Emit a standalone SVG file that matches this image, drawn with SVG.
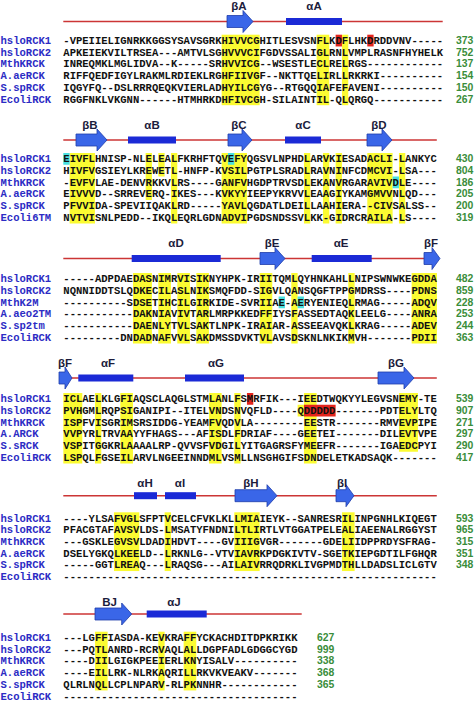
<svg xmlns="http://www.w3.org/2000/svg" width="474" height="701" viewBox="0 0 474 701">
<style>
.seq{font-family:"Liberation Mono","Courier New",monospace;font-weight:bold;font-size:10.55px;fill:#111;}
.nm{font-family:"Liberation Mono","Courier New",monospace;font-weight:bold;font-size:10.55px;fill:#2c2cc4;}
.num{font-family:"Liberation Sans",Arial,sans-serif;font-weight:bold;font-size:10.4px;fill:#3a8d3a;}
.lb{font-family:"Liberation Sans",Arial,sans-serif;font-weight:bold;font-size:11.5px;fill:#1c1c3c;text-anchor:middle;}
.ln{stroke:#cc3535;stroke-width:1.6;}
.ar{fill:#3a66e8;stroke:#1e3caa;stroke-width:0.8;}
.hx{fill:#1b2ad6;}
.y{fill:#fbfb32;}.r{fill:#e3241c;}.c{fill:#48e0e0;}
</style>
<rect width="474" height="701" fill="#fff"/>

<!-- highlights -->
<g id="highlights">
<g transform="translate(63.3,34.7) scale(6.333,11.75)">
<rect class="y" x="25" y="0" width="6" height="6"/><rect class="y" x="40" y="0" width="2" height="6"/><rect class="y" x="44" y="0" width="1" height="6"/>
<rect class="r" x="43" y="0" width="1" height="1"/><rect class="r" x="48" y="0" width="1" height="1"/>
</g>
<g transform="translate(63.3,153) scale(6.333,11.75)">
<rect class="y" x="1" y="0" width="4" height="6"/><rect class="y" x="13" y="0" width="1" height="4"/><rect class="y" x="15" y="0" width="1" height="2"/><rect class="y" x="17" y="0" width="1" height="6"/><rect class="y" x="25" y="0" width="4" height="6"/><rect class="y" x="38" y="0" width="1" height="6"/><rect class="y" x="41" y="0" width="1" height="6"/><rect class="y" x="43" y="0" width="1" height="6"/><rect class="y" x="48" y="0" width="4" height="6"/><rect class="y" x="53" y="0" width="1" height="6"/>
<rect class="c" x="0" y="0" width="1" height="1"/><rect class="c" x="26" y="0" width="1" height="1"/><rect class="c" x="52" y="2" width="1" height="1"/>
</g>
<g transform="translate(63.3,273) scale(6.333,11.75)">
<rect class="y" x="11" y="0" width="3" height="6"/><rect class="y" x="15" y="0" width="2" height="6"/><rect class="y" x="18" y="0" width="2" height="6"/><rect class="y" x="21" y="0" width="2" height="6"/><rect class="y" x="31" y="0" width="2" height="6"/><rect class="y" x="36" y="0" width="1" height="6"/><rect class="y" x="45" y="0" width="1" height="6"/><rect class="y" x="55" y="0" width="4" height="6"/>
<rect class="c" x="34" y="2" width="1" height="1"/><rect class="c" x="37" y="2" width="1" height="1"/>
</g>
<g transform="translate(63.3,393) scale(6.333,11.75)">
<rect class="y" x="0" y="0" width="3" height="6"/><rect class="y" x="5" y="0" width="1" height="6"/><rect class="y" x="9" y="0" width="2" height="6"/><rect class="y" x="23" y="0" width="2" height="6"/><rect class="y" x="27" y="0" width="1" height="6"/><rect class="y" x="38" y="0" width="2" height="6"/><rect class="y" x="37" y="1" width="1" height="1"/><rect class="y" x="53" y="0" width="3" height="5"/>
<rect class="r" x="29" y="0" width="1" height="1"/><rect class="r" x="38" y="1" width="5" height="1"/>
</g>
<g transform="translate(63.3,512.3) scale(6.333,11.75)">
<rect class="y" x="8" y="0" width="4" height="5"/><rect class="y" x="16" y="0" width="1" height="5"/><rect class="y" x="27" y="0" width="4" height="5"/><rect class="y" x="44" y="0" width="2" height="5"/>
</g>
<g transform="translate(63.3,631.7) scale(6.333,11.75)">
<rect class="y" x="5" y="0" width="2" height="5"/><rect class="y" x="15" y="0" width="1" height="5"/><rect class="y" x="19" y="0" width="2" height="5"/>
</g>
</g>

<!-- secondary structure connectors -->
<g id="connectors">
<line class="ln" x1="63.3" y1="21.5" x2="442.7" y2="21.5"/>
<line class="ln" x1="63.3" y1="140" x2="436.8" y2="140"/>
<line class="ln" x1="63.3" y1="258.5" x2="436.8" y2="258.5"/>
<line class="ln" x1="63.3" y1="378" x2="436.8" y2="378"/>
<line class="ln" x1="63.3" y1="495.7" x2="436.8" y2="495.7"/>
<line class="ln" x1="63.3" y1="614" x2="301.7" y2="614"/>
</g>

<g id="ss1">
<path class="ar" d="M227,15.5H243V10.5L253,21.5L243,32.5V27.5H227Z"/>
<rect class="hx" x="286" y="18" width="56" height="7"/>
<text class="lb" x="239" y="10">βA</text><text class="lb" x="314" y="10">αA</text>
</g>
<g id="ss2">
<path class="ar" d="M76,134H97V129L107,140L97,151V146H76Z"/>
<rect class="hx" x="128" y="136.5" width="48" height="7"/>
<path class="ar" d="M228,134H242V129L252,140L242,151V146H228Z"/>
<rect class="hx" x="285" y="136.5" width="36" height="7"/>
<path class="ar" d="M367,134H382V129L392,140L382,151V146H367Z"/>
<text class="lb" x="90" y="129">βB</text><text class="lb" x="152" y="129">αB</text><text class="lb" x="239" y="129">βC</text><text class="lb" x="303" y="129">αC</text><text class="lb" x="379" y="129">βD</text>
</g>
<g id="ss3">
<rect class="hx" x="131.7" y="255" width="89" height="7"/>
<path class="ar" d="M260,252.5H275V247.5L285,258.5L275,269.5V264.5H260Z"/>
<rect class="hx" x="311.7" y="255" width="60" height="7"/>
<path class="ar" d="M424,252.5H432V247.5L440,258.5L432,269.5V264.5H424Z"/>
<text class="lb" x="176" y="247">αD</text><text class="lb" x="272" y="247">βE</text><text class="lb" x="341" y="247">αE</text><text class="lb" x="431" y="247">βF</text>
</g>
<g id="ss4">
<path class="ar" d="M59,372H65V367L72,378L65,389V384H59Z"/>
<rect class="hx" x="78.3" y="374.5" width="55" height="7"/>
<rect class="hx" x="185" y="374.5" width="59" height="7"/>
<path class="ar" d="M378,372H404V367L414,378L404,389V384H378Z"/>
<text class="lb" x="65" y="367">βF</text><text class="lb" x="108" y="367">αF</text><text class="lb" x="216" y="367">αG</text><text class="lb" x="396" y="367">βG</text>
</g>
<g id="ss5">
<rect class="hx" x="134" y="492.2" width="23" height="7"/>
<rect class="hx" x="165" y="492.2" width="31" height="7"/>
<path class="ar" d="M235,489.7H267V484.7L277,495.7L267,506.7V501.7H235Z"/>
<path class="ar" d="M336,489.7H346V484.7L354,495.7L346,506.7V501.7H336Z"/>
<text class="lb" x="145" y="487">αH</text><text class="lb" x="180" y="487">αI</text><text class="lb" x="251" y="487">βH</text><text class="lb" x="342" y="487">βI</text>
</g>
<g id="ss6">
<path class="ar" d="M95,608H121.7V603L131.7,614L121.7,625V620H95Z"/>
<rect class="hx" x="146.7" y="610.5" width="60" height="7"/>
<text class="lb" x="109.5" y="605.7">BJ</text><text class="lb" x="174" y="605.7">αJ</text>
</g>

<g id="block1">
<text class="nm" x="0.5" y="44">hsloRCK1</text><text class="nm" x="0.5" y="55.7">hsloRCK2</text><text class="nm" x="0.5" y="67.4">MthKRCK</text><text class="nm" x="0.5" y="79.1">A.aeRCK</text><text class="nm" x="0.5" y="90.8">S.spRCK</text><text class="nm" x="0.5" y="102.5">EcoliRCK</text>
<text class="seq" x="63.3" y="44">-VPEIIELIGNRKKGGSYSAVSGRKHIVVCGHITLESVSNFLKDFLHKDRDDVNV-----</text>
<text class="seq" x="63.3" y="55.7">APKEIEKVILTRSEA---AMTVLSGHVVVCIFGDVSSALIGLRNLVMPLRASNFHYHELK</text>
<text class="seq" x="63.3" y="67.4">INREQMKLMGLIDVA--K-----SRHVVICG--WSESTLECLRELRGS------------</text>
<text class="seq" x="63.3" y="79.1">RIFFQEDFIGYLRAKMLRDIEKLRGHFIIVGF--NKTTQELIRLLRKRKI----------</text>
<text class="seq" x="63.3" y="90.8">IQGYFQ--DSLRRRQEQKVIERLADHYILCGYG--RTGQQIAFEFAVENI----------</text>
<text class="seq" x="63.3" y="102.5">RGGFNKLVKGNN------HTMHRKDHFIVCGH-SILAINTIL-QLQRGQ-----------</text>
<text class="num" x="456" y="44">373</text><text class="num" x="456" y="55.7">752</text><text class="num" x="456" y="67.4">137</text><text class="num" x="456" y="79.1">154</text><text class="num" x="456" y="90.8">150</text><text class="num" x="456" y="102.5">267</text>
</g>

<g id="block2">
<text class="nm" x="0.5" y="162.3">hsloRCK1</text><text class="nm" x="0.5" y="174">hsloRCK2</text><text class="nm" x="0.5" y="185.7">MthKRCK</text><text class="nm" x="0.5" y="197.4">A.aeRCK</text><text class="nm" x="0.5" y="209.1">S.spRCK</text><text class="nm" x="0.5" y="220.8">Ecoli6TM</text>
<text class="seq" x="63.3" y="162.3">EIVFLHNISP-NLELEALFKRHFTQVEFYQGSVLNPHDLARVKIESADACLI-LANKYC</text>
<text class="seq" x="63.3" y="174">HIVFVGSIEYLKREWETL-HNFP-KVSILPGTPLSRADLRAVNINFCDMCVI-LSA---</text>
<text class="seq" x="63.3" y="185.7">-EVFVLAE-DENVRKKVLRS----GANFVHGDPTRVSDLEKANVRGARAVIVDLE----</text>
<text class="seq" x="63.3" y="197.4">EIVVVD--SRREVERQ-IKES---KVKYYIEEPYKRVVLEAAGIYKAMGMVVNLQD---</text>
<text class="seq" x="63.3" y="209.1">PFVVIDA-SPEVIIQAKLRD-----YAVLQGDATLDEILLAAHIERA--CIVSALSS--</text>
<text class="seq" x="63.3" y="220.8">NVTVISNLPEDD--IKQLEQRLGDNADVIPGDSNDSSVLKK-GIDRCRAILA-LS----</text>
<text class="num" x="456" y="162.3">430</text><text class="num" x="456" y="174">804</text><text class="num" x="456" y="185.7">186</text><text class="num" x="456" y="197.4">205</text><text class="num" x="456" y="209.1">200</text><text class="num" x="456" y="220.8">319</text>
</g>

<g id="block3">
<text class="nm" x="0.5" y="282.3">hsloRCK1</text><text class="nm" x="0.5" y="294">hsloRCK2</text><text class="nm" x="0.5" y="305.7">MthK2M</text><text class="nm" x="0.5" y="317.4">A.aeo2TM</text><text class="nm" x="0.5" y="329.1">S.sp2tm</text><text class="nm" x="0.5" y="340.8">EcoliRCK</text>
<text class="seq" x="63.3" y="282.3">-----ADPDAEDASNIMRVISIKNYHPK-IRIITQMLQYHNKAHLLNIPSWNWKEGDDA</text>
<text class="seq" x="63.3" y="294">NQNNIDDTSLQDKECILASLNIKSMQFDD-SIGVLQANSQGFTPPGMDRSS----PDNS</text>
<text class="seq" x="63.3" y="305.7">----------SDSETIHCILGIRKIDE-SVRIIAE-AERYENIEQLRMAG-----ADQV</text>
<text class="seq" x="63.3" y="317.4">-----------DAKNIAVIVTARLMRPKKEDFFIYSFASSEDTAQKLEELG----ANRA</text>
<text class="seq" x="63.3" y="329.1">-----------DAENLYTVLSAKTLNPK-IRAIAR-ASSEEAVQKLKRAG-----ADEV</text>
<text class="seq" x="63.3" y="340.8">---------DNDADNAFVVLSAKDMSSDVKTVLAVSDSKNLNKIKMVH-------PDII</text>
<text class="num" x="456" y="282.3">482</text><text class="num" x="456" y="294">859</text><text class="num" x="456" y="305.7">228</text><text class="num" x="456" y="317.4">253</text><text class="num" x="456" y="329.1">244</text><text class="num" x="456" y="340.8">363</text>
</g>

<g id="block4">
<text class="nm" x="0.5" y="402.3">hsloRCK1</text><text class="nm" x="0.5" y="414">hsloRCK2</text><text class="nm" x="0.5" y="425.7">MthKRCK</text><text class="nm" x="0.5" y="437.4">A.ARCK</text><text class="nm" x="0.5" y="449.1">S.sRCK</text><text class="nm" x="0.5" y="460.8">EcoliRCK</text>
<text class="seq" x="63.3" y="402.3">ICLAELKLGFIAQSCLAQGLSTMLANLFSMRFIK---IEEDTWQKYYLEGVSNEMY-TE</text>
<text class="seq" x="63.3" y="414">PVHGMLRQPSIGANIPI--ITELVNDSNVQFLD----QDDDDD-------PDTELYLTQ</text>
<text class="seq" x="63.3" y="425.7">ISPFVISGRIMSRSIDDG-YEAMFVQDVLA--------EESTR-------RMVEVPIPE</text>
<text class="seq" x="63.3" y="437.4">VVPYRLTRVAAYYFHAGS---AFISDLFDRIAF----GEETEI-------DILEVTVPE</text>
<text class="seq" x="63.3" y="449.1">VSPITGGKRLAAAALRP-QVVSFVDGILYITGAGRSFYMEEFR-------IGAEDCPYI</text>
<text class="seq" x="63.3" y="460.8">LSPQLFGSEILARVLNGEEINNDMLVSMLLNSGHGIFSDNDELETKADSAQK-------</text>
<text class="num" x="456" y="402.3">539</text><text class="num" x="456" y="414">907</text><text class="num" x="456" y="425.7">271</text><text class="num" x="456" y="437.4">297</text><text class="num" x="456" y="449.1">290</text><text class="num" x="456" y="460.8">417</text>
</g>

<g id="block5">
<text class="nm" x="0.5" y="521.6">hsloRCK1</text><text class="nm" x="0.5" y="533.3">hsloRCK2</text><text class="nm" x="0.5" y="545">MthKRCK</text><text class="nm" x="0.5" y="556.7">A.aeRCK</text><text class="nm" x="0.5" y="568.4">S.spRCK</text><text class="nm" x="0.5" y="580.1">EcoliRCK</text>
<text class="seq" x="63.3" y="521.6">----YLSAFVGLSFPTVCELCFVKLKLLMIAIEYK--SANRESRILINPGNHLKIQEGT</text>
<text class="seq" x="63.3" y="533.3">PFACGTAFAVSVLDS-LMSATYFNDNILTLIRTLVTGGATPELEALIAEENALRGGYST</text>
<text class="seq" x="63.3" y="545">---GSKLEGVSVLDADIHDVT----GVIIIGVGR-------GDELIIDPPRDYSFRAG-</text>
<text class="seq" x="63.3" y="556.7">DSELYGKQLKEELD--LRKNLG--VTVIAVRKPDGKIVTV-SGETKIEPGDTILFGHQR</text>
<text class="seq" x="63.3" y="568.4">-----GGTLREAQ---LRAQSG---AILAIVRRQDRKLIVGPMDTHLLDADSLICLGTV</text>
<text class="seq" x="63.3" y="580.1">-----------------------------------------------------------</text>
<text class="num" x="456" y="521.6">593</text><text class="num" x="456" y="533.3">965</text><text class="num" x="456" y="545">315</text><text class="num" x="456" y="556.7">351</text><text class="num" x="456" y="568.4">348</text>
</g>

<g id="block6">
<text class="nm" x="0.5" y="641">hsloRCK1</text><text class="nm" x="0.5" y="652.7">hsloRCK2</text><text class="nm" x="0.5" y="664.4">MthKRCK</text><text class="nm" x="0.5" y="676.1">A.aeRCK</text><text class="nm" x="0.5" y="687.8">S.spRCK</text><text class="nm" x="0.5" y="699.5">EcoliRCK</text>
<text class="seq" x="63.3" y="641">---LGFFIASDA-KEVKRAFFYCKACHDITDPKRIKK</text>
<text class="seq" x="63.3" y="652.7">---PQTLANRD-RCRVAQLALLDGPFADLGDGGCYGD</text>
<text class="seq" x="63.3" y="664.4">----DIILGIGKPEEIERLKNYISALV----------</text>
<text class="seq" x="63.3" y="676.1">----EILLRK-NLRKAQRILLRKVKVEAKV-------</text>
<text class="seq" x="63.3" y="687.8">QLRLNQLLCPLNPARV-RLPKNNHR------------</text>
<text class="seq" x="63.3" y="699.5">-------------------------------------</text>
<text class="num" x="317" y="641">627</text><text class="num" x="317" y="652.7">999</text><text class="num" x="317" y="664.4">338</text><text class="num" x="317" y="676.1">368</text><text class="num" x="317" y="687.8">365</text>
</g>
</svg>
